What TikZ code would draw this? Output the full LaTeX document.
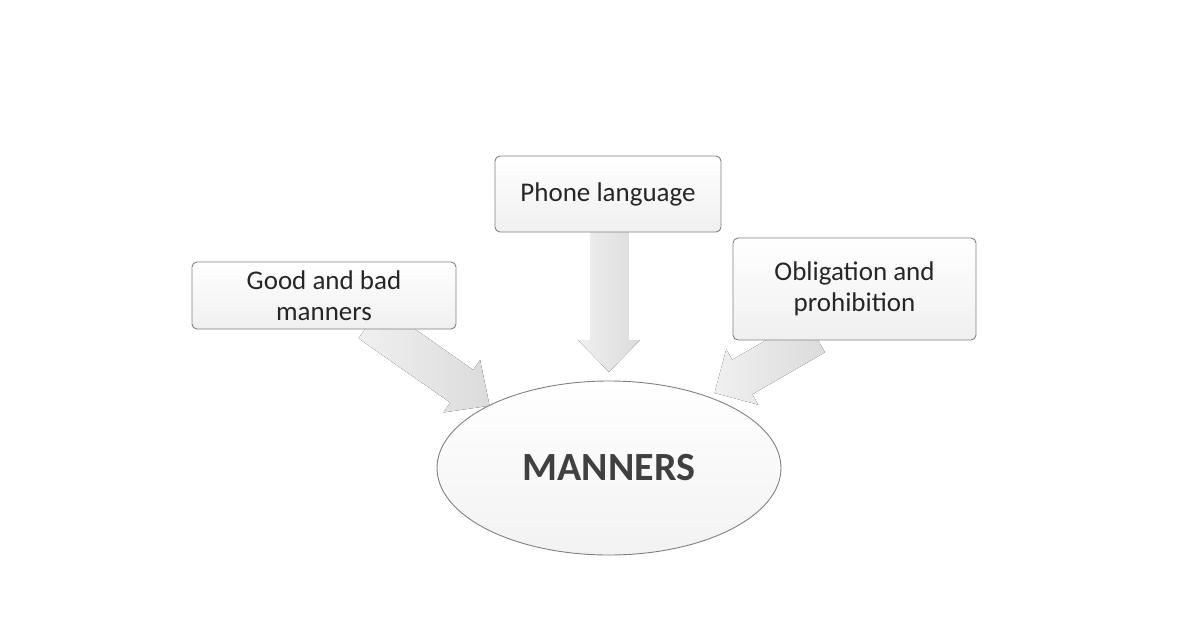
\documentclass[tikz,border=0pt]{standalone}
\usepackage{fontspec}
\setmainfont{Carlito}
\usetikzlibrary{shapes.geometric}
\begin{document}
\begin{tikzpicture}[x=1pt,y=-1pt,
  box/.style={draw=gray,line width=0.9pt,rounded corners=5pt,top color=white,bottom color=gray!12,
    align=center,font=\fontsize{27}{31}\selectfont,text=black!85,inner sep=0pt},
  barrow/.style={draw=none,left color=gray!12,right color=gray!28}]
\useasboundingbox (0,0) rectangle (1200,630);
\begin{scope}[shift={(370,322)},rotate=-35]
  \fill[barrow] (0,-20) -- (112,-20) -- (112,-32) -- (146,0) -- (112,32) -- (112,20) -- (0,20) -- cycle;
\end{scope}
\begin{scope}[shift={(609,228)},rotate=-90]
  \fill[barrow] (0,-19) -- (112,-19) -- (112,-31) -- (144,0) -- (112,31) -- (112,19) -- (0,19) -- cycle;
\end{scope}
\begin{scope}[shift={(815,335)},rotate=210]
  \fill[barrow] (0,-20) -- (84,-20) -- (84,-32) -- (116,0) -- (84,32) -- (84,20) -- (0,20) -- cycle;
\end{scope}
\node[box,minimum width=226pt,minimum height=76pt] (phone) at (608,194) {Phone language};
\node[box,minimum width=264pt,minimum height=67pt] (good) at (324,295.5) {Good and bad\\manners};
\node[box,minimum width=243pt,minimum height=102pt] (oblig) at (854.5,289) {Obligation and\\prohibition};
\node[ellipse,draw=gray,line width=0.9pt,top color=white,bottom color=gray!10,minimum width=344pt,minimum height=174pt,
  font=\bfseries\fontsize{40}{46}\selectfont,text=black!75] (man) at (609,468) {MANNERS};
\end{tikzpicture}
\end{document}
